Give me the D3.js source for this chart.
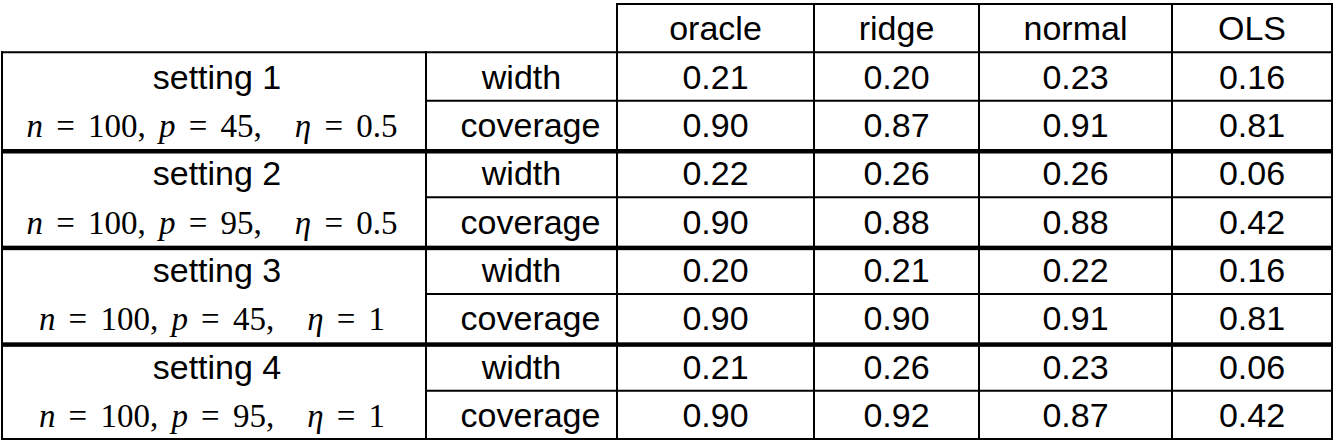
<!DOCTYPE html>
<html>
<head>
<meta charset="utf-8">
<script src="https://cdn.jsdelivr.net/npm/d3@7"></script>
<style>
body { margin: 0; background: #fff; }
svg { display: block; }
.cell { font-family: "Liberation Sans", Arial, sans-serif; font-size: 34px; fill: #000; }
.math { font-family: "Liberation Serif", "Times New Roman", serif; font-size: 33px; fill: #000; }
</style>
</head>
<body>
<svg id="table" width="1335" height="443"></svg>
<script>
// table content
const methods = ["oracle", "ridge", "normal", "OLS"];
const settings = ["setting 1", "setting 2", "setting 3", "setting 4"];
const nVals = [100, 100, 100, 100];
const pVals = [45, 95, 45, 95];
const etaVals = ["0.5", "0.5", "1", "1"];
const metrics = ["width", "coverage"];

// one value per row: (setting 1 width, setting 1 coverage, setting 2 width, ...)
const oracleVals = [0.21, 0.90, 0.22, 0.90, 0.20, 0.90, 0.21, 0.90];
const ridgeVals  = [0.20, 0.87, 0.26, 0.88, 0.21, 0.90, 0.26, 0.92];
const normalVals = [0.23, 0.91, 0.26, 0.88, 0.22, 0.91, 0.23, 0.87];
const olsVals    = [0.16, 0.81, 0.06, 0.42, 0.16, 0.81, 0.06, 0.42];
const valuesByMethod = [oracleVals, ridgeVals, normalVals, olsVals];

// layout
const colEdges = [2, 426, 617, 814, 979, 1172, 1332];
const THIN = 2, THICK = 4.5;
const BASE = 12;          // baseline below row middle
const metricDx = [0, 9];  // "coverage" sits a little right in the original

const svg = d3.select("#table");
const nRows = settings.length * metrics.length;

// row boundaries: -1 = top of header, 0 = header bottom, nRows = bottom
const y = d3.scaleLinear().domain([-1, nRows]).range([4, 439]);
const rowMid = r => (y(r) + y(r + 1)) / 2;

const colKeys = ["setting", "metric"].concat(methods);
const left = d3.scaleOrdinal().domain(colKeys).range(colEdges.slice(0, -1));
const right = d3.scaleOrdinal().domain(colKeys).range(colEdges.slice(1));
const colMid = k => (left(k) + right(k)) / 2;

const fmt = d3.format(".2f");

// ---- grid lines ----
const vLines = colEdges.map((x, i) => ({
	x: x,
	y0: i < 2 ? y(0) : y(-1),
	y1: y(nRows)
}));

const hLines = [];
hLines.push({ y: y(-1), x0: left(methods[0]), x1: colEdges[6] });
hLines.push({ y: y(0), x0: colEdges[0], x1: colEdges[6] });
d3.range(1, nRows).forEach(r => {
	if (r % 2 === 1) hLines.push({ y: y(r), x0: left("metric"), x1: colEdges[6] });
});
hLines.push({ y: y(nRows), x0: colEdges[0], x1: colEdges[6] });

const thickLines = d3.range(2, nRows, 2).map(r => ({ y: y(r), x0: colEdges[0], x1: colEdges[6] }));

svg.append("g").selectAll("line").data(vLines).enter().append("line")
	.attr("x1", d => d.x).attr("x2", d => d.x)
	.attr("y1", d => d.y0).attr("y2", d => d.y1)
	.attr("stroke", "#000").attr("stroke-width", THIN)
	.attr("stroke-linecap", "square");

svg.append("g").selectAll("line").data(hLines).enter().append("line")
	.attr("x1", d => d.x0).attr("x2", d => d.x1)
	.attr("y1", d => d.y).attr("y2", d => d.y)
	.attr("stroke", "#000").attr("stroke-width", THIN)
	.attr("stroke-linecap", "square");

svg.append("g").selectAll("rect").data(thickLines).enter().append("rect")
	.attr("x", d => d.x0 - THIN / 2).attr("width", d => d.x1 - d.x0 + THIN)
	.attr("y", d => d.y).attr("height", THICK)
	.attr("fill", "#000");

// ---- header ----
svg.append("g").selectAll("text").data(methods).enter().append("text")
	.attr("class", "cell")
	.attr("text-anchor", "middle")
	.attr("x", d => colMid(d))
	.attr("y", rowMid(-1) + BASE)
	.text(d => d);

// ---- setting labels ----
svg.append("g").selectAll("text").data(settings).enter().append("text")
	.attr("class", "cell")
	.attr("text-anchor", "middle")
	.attr("x", colMid("setting") + 3)
	.attr("y", (d, i) => rowMid(2 * i) + BASE)
	.text(d => d);

// ---- parameter lines (n = 100, p = 45, eta = 0.5) ----
const mathParts = i => [
	{ t: "n", it: true, dx: 0 },
	{ t: "=", dx: 0.4 },
	{ t: String(nVals[i]), dx: 0.4 },
	{ t: ",", dx: 0 },
	{ t: "p", it: true, dx: 0.4 },
	{ t: "=", dx: 0.4 },
	{ t: String(pVals[i]), dx: 0.4 },
	{ t: ",", dx: 0 },
	{ t: "\u03b7", it: true, dx: 1.0 },
	{ t: "=", dx: 0.4 },
	{ t: etaVals[i], dx: 0.4 }
];

svg.append("g").selectAll("text").data(settings).enter().append("text")
	.attr("class", "math")
	.attr("text-anchor", "middle")
	.attr("x", colMid("setting") - 2)
	.attr("y", (d, i) => rowMid(2 * i + 1) + BASE)
	.each(function(d, i) {
		d3.select(this).selectAll("tspan").data(mathParts(i)).enter().append("tspan")
			.attr("dx", p => p.dx + "em")
			.style("font-style", p => p.it ? "italic" : "normal")
			.text(p => p.t);
	});

// ---- metric labels ----
const rows = d3.range(nRows);
svg.append("g").selectAll("text").data(rows).enter().append("text")
	.attr("class", "cell")
	.attr("text-anchor", "middle")
	.attr("x", r => colMid("metric") + metricDx[r % 2])
	.attr("y", r => rowMid(r) + BASE)
	.text(r => metrics[r % 2]);

// ---- values ----
methods.forEach((m, j) => {
	svg.append("g").selectAll("text").data(valuesByMethod[j]).enter().append("text")
		.attr("class", "cell")
		.attr("text-anchor", "middle")
		.attr("x", colMid(m))
		.attr("y", (v, r) => rowMid(r) + BASE)
		.text(v => fmt(v));
});
</script>
</body>
</html>
